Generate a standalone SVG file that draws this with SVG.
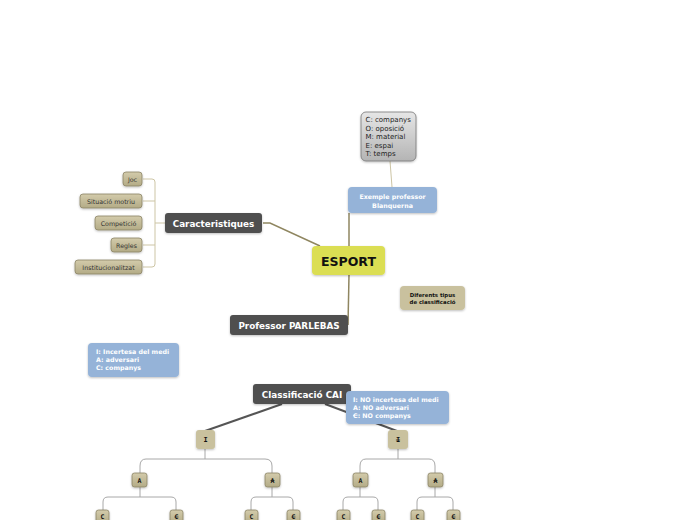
<svg xmlns="http://www.w3.org/2000/svg" width="697" height="520" viewBox="0 0 697 520">
<defs>
<linearGradient id="gGray" x1="0" y1="0" x2="0" y2="1"><stop offset="0" stop-color="#e6e6e6"/><stop offset="1" stop-color="#b4b4b4"/></linearGradient>
<linearGradient id="gBeige" x1="0" y1="0" x2="0" y2="1"><stop offset="0" stop-color="#d3cbab"/><stop offset="1" stop-color="#b3ab86"/></linearGradient>
<filter id="sh" x="-20%" y="-20%" width="140%" height="160%"><feDropShadow dx="0" dy="1" stdDeviation="0.8" flood-color="#000" flood-opacity="0.25"/></filter>
</defs>
<style>
text{font-family:"DejaVu Sans","Verdana",sans-serif}
.dark rect{fill:#505050;filter:url(#sh)}
.dark text{fill:#fff;font-weight:bold;font-size:8.8px;text-anchor:middle}
.blue rect{fill:#95b3d8;filter:url(#sh)}
.blue text{fill:#fff;font-weight:bold;font-size:6.3px}
.item rect{fill:url(#gBeige);stroke:#8c8466;stroke-width:0.8;filter:url(#sh)}
.item text{fill:#333;font-size:6.3px;text-anchor:middle}
.lt rect{fill:#c9c19e;filter:url(#sh)}
.lt text{fill:#111;font-weight:bold;font-size:7px;text-anchor:middle;font-family:"DejaVu Sans Mono",monospace}
.sm rect{fill:url(#gBeige);stroke:#8c8466;stroke-width:0.8;filter:url(#sh)}
.sm text{fill:#111;font-weight:bold;font-size:6.5px;text-anchor:middle;font-family:"DejaVu Sans Mono",monospace}
.st{text-decoration:line-through}
.conn path{fill:none}
.c1{stroke:#8f8660;stroke-width:1.5}
.c2{stroke:#cdc5a5;stroke-width:1}
.c3{stroke:#555;stroke-width:2}
.c4{stroke:#a8a8a8;stroke-width:1}
</style>
<g id="connectors" class="conn">
<path class="c2" d="M390,161 L392,187"/>
<path class="c1" d="M349,246 L349,213"/>
<path class="c1" d="M263,223 L270,223 L320,246"/>
<path class="c1" d="M349,275 L348,325"/>
<path class="c2" d="M165,223 L155,223"/>
<path class="c2" d="M143,179 L152,179 Q155,179 155,182 L155,264 Q155,267 152,267 L143,267"/>
<path class="c2" d="M143,201 L155,201 M143,245 L155,245"/>
<path class="c3" d="M282,404 L205,431"/>
<path class="c3" d="M325,404 L397,431"/>
<path class="c4" d="M205,449 L205,459 M146,459 L265,459 Q272,459 272,466 L272,473 M146,459 Q140,459 140,466 L140,473"/>
<path class="c4" d="M398,449 L398,459 M366,459 L429,459 Q435,459 435,466 L435,473 M366,459 Q360,459 360,466 L360,473"/>
<path class="c4" d="M140,487 L140,497 M108,497 L171,497 Q176,497 176,502 L176,510 M108,497 Q103,497 103,502 L103,510"/>
<path class="c4" d="M272,487 L272,497 M256,497 L288,497 Q293,497 293,502 L293,510 M256,497 Q251,497 251,502 L251,510"/>
<path class="c4" d="M360,487 L360,497 M348,497 L373,497 Q378,497 378,502 L378,510 M348,497 Q343,497 343,502 L343,510"/>
<path class="c4" d="M435,487 L435,497 M422,497 L448,497 Q453,497 453,502 L453,510 M422,497 Q417,497 417,502 L417,510"/>
</g>
<g id="esport"><rect x="312" y="246" width="73" height="29" rx="4" fill="#dbde52" filter="url(#sh)"/><text x="348.5" y="265.5" font-size="12.5" font-weight="bold" text-anchor="middle" fill="#111">ESPORT</text></g>
<g id="coment"><rect x="361" y="112" width="55" height="49" rx="5" fill="url(#gGray)" stroke="#777" stroke-width="0.8" filter="url(#sh)"/>
<text font-size="7" fill="#222"><tspan x="365.5" y="122">C: companys</tspan><tspan x="365.5" y="130.5">O: oposició</tspan><tspan x="365.5" y="139">M: material</tspan><tspan x="365.5" y="147.5">E: espai</tspan><tspan x="365.5" y="156">T: temps</tspan></text></g>
<g id="blanquerna" class="blue"><rect x="348" y="187" width="89" height="26" rx="4"/><text text-anchor="middle"><tspan x="392.5" y="198.5">Exemple professor</tspan><tspan x="392.5" y="207.5">Blanquerna</tspan></text></g>
<g id="caracteristiques" class="dark"><rect x="165" y="213" width="97" height="20" rx="3"/><text x="213.5" y="226.5">Caracteristiques</text></g>
<g id="joc" class="item"><rect x="123" y="172" width="19" height="14" rx="3"/><text x="132.5" y="181.5">Joc</text></g>
<g id="situacio" class="item"><rect x="80" y="194" width="62" height="14" rx="3"/><text x="111" y="203.5">Situació motriu</text></g>
<g id="competicio" class="item"><rect x="95" y="216" width="47" height="14" rx="3"/><text x="118.5" y="225.5">Competició</text></g>
<g id="regles" class="item"><rect x="111" y="238" width="31" height="14" rx="3"/><text x="126.5" y="247.5">Regles</text></g>
<g id="institucionalitzat" class="item"><rect x="75" y="260" width="67" height="14" rx="3"/><text x="108.5" y="269.5">Institucionalitzat</text></g>
<g id="parlebas" class="dark"><rect x="230" y="315" width="118" height="20" rx="3"/><text x="289" y="328.5">Professor PARLEBAS</text></g>
<g id="diferents" class="lt"><rect x="400" y="286" width="65" height="24" rx="4"/><text style="font-family:'DejaVu Sans',sans-serif;font-size:5.4px"><tspan x="432.5" y="296.5">Diferents tipus</tspan><tspan x="432.5" y="304">de classificació</tspan></text></g>
<g id="legend1" class="blue"><rect x="88" y="343" width="91" height="34" rx="4"/><text><tspan x="96" y="354">I: Incertesa del medi</tspan><tspan x="96" y="362">A: adversari</tspan><tspan x="96" y="370">C: companys</tspan></text></g>
<g id="cai" class="dark"><rect x="253" y="384" width="98" height="20" rx="3"/><text x="302" y="397.5">Classificació CAI</text></g>
<g id="legend2" class="blue"><rect x="346" y="391" width="103" height="33" rx="4"/><text><tspan x="353" y="401.5">I: NO incertesa del medi</tspan><tspan x="353" y="409.5">A: NO adversari</tspan><tspan x="353" y="417.5"><tspan class="st">C</tspan>: NO companys</tspan></text></g>
<g id="i1" class="lt"><rect x="196" y="430" width="19" height="19" rx="3"/><text x="205.5" y="442">I</text></g>
<g id="i2" class="lt"><rect x="388" y="430" width="20" height="19" rx="3"/><text x="398" y="442" class="st">I</text></g>
<g id="a1" class="sm"><rect x="132" y="473" width="15" height="14" rx="2.5"/><text x="139.5" y="482.5">A</text></g>
<g id="a2" class="sm"><rect x="265" y="473" width="15" height="14" rx="2.5"/><text x="272.5" y="482.5" class="st">A</text></g>
<g id="a3" class="sm"><rect x="353" y="473" width="15" height="14" rx="2.5"/><text x="360.5" y="482.5">A</text></g>
<g id="a4" class="sm"><rect x="428" y="473" width="15" height="14" rx="2.5"/><text x="435.5" y="482.5" class="st">A</text></g>
<g id="c1" class="sm"><rect x="96" y="510" width="13" height="14" rx="2.5"/><text x="102.5" y="519">C</text></g>
<g id="c2" class="sm"><rect x="170" y="510" width="13" height="14" rx="2.5"/><text x="176.5" y="519" class="st">C</text></g>
<g id="c3" class="sm"><rect x="245" y="510" width="13" height="14" rx="2.5"/><text x="251.5" y="519">C</text></g>
<g id="c4" class="sm"><rect x="287" y="510" width="13" height="14" rx="2.5"/><text x="293.5" y="519" class="st">C</text></g>
<g id="c5" class="sm"><rect x="337" y="510" width="13" height="14" rx="2.5"/><text x="343.5" y="519">C</text></g>
<g id="c6" class="sm"><rect x="372" y="510" width="13" height="14" rx="2.5"/><text x="378.5" y="519" class="st">C</text></g>
<g id="c7" class="sm"><rect x="411" y="510" width="13" height="14" rx="2.5"/><text x="417.5" y="519">C</text></g>
<g id="c8" class="sm"><rect x="447" y="510" width="13" height="14" rx="2.5"/><text x="453.5" y="519" class="st">C</text></g>
</svg>
